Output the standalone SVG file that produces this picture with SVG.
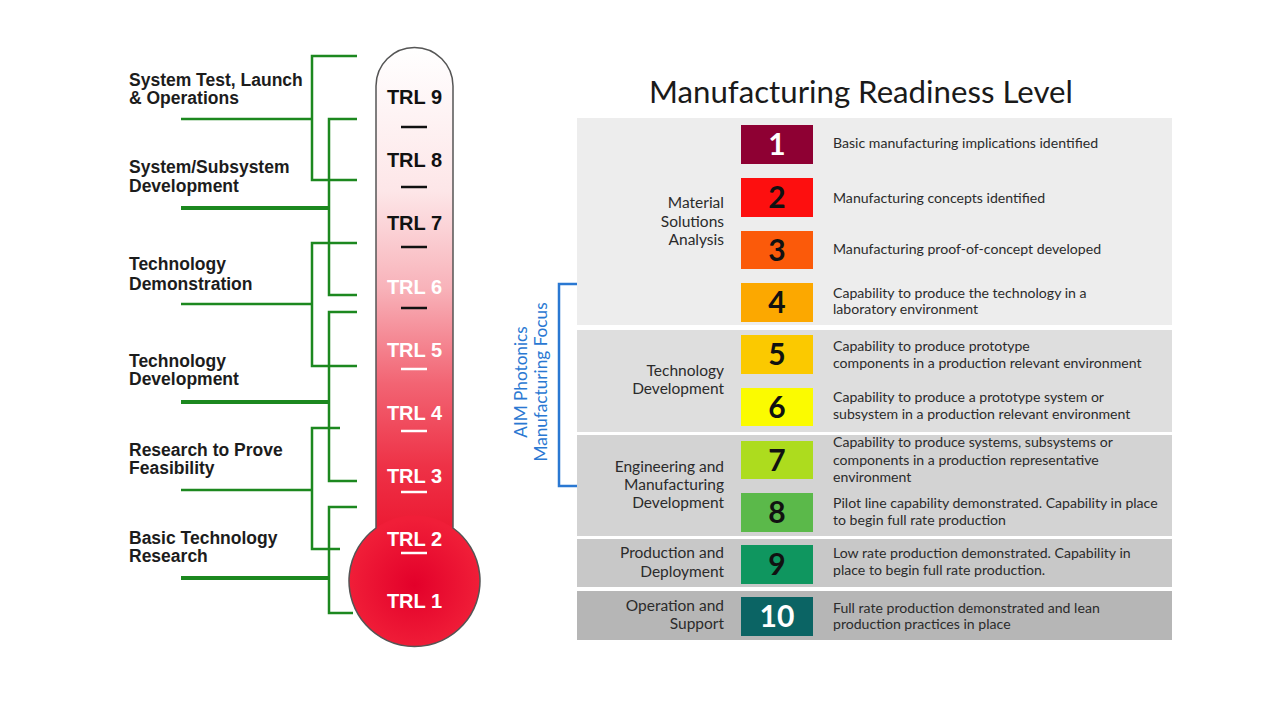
<svg xmlns="http://www.w3.org/2000/svg" width="1280" height="712" viewBox="0 0 1280 712">
<defs>
<linearGradient id="tubeGrad" x1="0" y1="47" x2="0" y2="528" gradientUnits="userSpaceOnUse">
<stop offset="0" stop-color="#ffffff"/>
<stop offset="0.3" stop-color="#fde6e8"/>
<stop offset="0.5" stop-color="#f8b3ba"/>
<stop offset="0.7" stop-color="#f26473"/>
<stop offset="0.87" stop-color="#ee3247"/>
<stop offset="1" stop-color="#ec1a33"/>
</linearGradient>
<radialGradient id="bulbGrad" cx="414.5" cy="585" r="65.5" gradientUnits="userSpaceOnUse">
<stop offset="0" stop-color="#e3002a"/>
<stop offset="1" stop-color="#f01e38"/>
</radialGradient>
<style>
.lbl{font-family:"Liberation Sans",Arial,sans-serif;font-weight:bold;font-size:17.5px;fill:#1c1c1c}
.trl{font-family:"Liberation Sans",Arial,sans-serif;font-weight:bold;font-size:20px;text-anchor:middle}
.dk{fill:#111111}
.wt{fill:#ffffff}
.g{stroke:#1c881f;stroke-width:2.5;fill:none}
.gt{stroke:#1c881f;stroke-width:4;fill:none}
.dashb{stroke:#111111;stroke-width:2.5}
.dashw{stroke:#ffffff;stroke-width:2.5}
.title{font-family:Lato,"Liberation Sans",sans-serif;font-size:31.2px;fill:#1a1a1a;text-anchor:middle}
.phase{font-family:Lato,"Liberation Sans",sans-serif;font-size:15.5px;fill:#2b2b2b;text-anchor:end}
.desc{font-family:Lato,"Liberation Sans",sans-serif;font-size:14.1px;fill:#2b2b2b}
.num{font-family:Lato,"Liberation Sans",sans-serif;font-size:30px;font-weight:bold;text-anchor:middle}
.blue{stroke:#2a78d2;stroke-width:2.5;fill:none}
.bluet{font-family:Lato,"Liberation Sans",sans-serif;font-size:17.2px;fill:#2a78d2;text-anchor:middle}
</style>
</defs>
<rect width="1280" height="712" fill="#ffffff"/>

<g id="thermometer">
<path d="M376,528 L376,86 A38.5,38.5 0 0 1 453,86 L453,528 A65.5,65.5 0 1 1 376,528 Z" fill="url(#tubeGrad)"/>
<circle cx="414.5" cy="581" r="65.5" fill="url(#bulbGrad)"/>
<path d="M376,528 L376,86 A38.5,38.5 0 0 1 453,86 L453,528 A65.5,65.5 0 1 1 376,528 Z" fill="none" stroke="#555555" stroke-width="1.5"/>
<line class="dashb" x1="401" y1="127" x2="427" y2="127"/>
<line class="dashb" x1="401" y1="187" x2="427" y2="187"/>
<line class="dashb" x1="401" y1="247" x2="427" y2="247"/>
<line class="dashb" x1="401" y1="308" x2="427" y2="308"/>
<line class="dashw" x1="401" y1="369" x2="427" y2="369"/>
<line class="dashw" x1="401" y1="431" x2="427" y2="431"/>
<line class="dashw" x1="401" y1="492" x2="427" y2="492"/>
<line class="dashw" x1="401" y1="553" x2="427" y2="553"/>
</g>
<g id="trl9"><text class="trl dk" x="414.5" y="104">TRL 9</text></g>
<g id="trl8"><text class="trl dk" x="414.5" y="167">TRL 8</text></g>
<g id="trl7"><text class="trl dk" x="414.5" y="230">TRL 7</text></g>
<g id="trl6"><text class="trl wt" x="414.5" y="294">TRL 6</text></g>
<g id="trl5"><text class="trl wt" x="414.5" y="357">TRL 5</text></g>
<g id="trl4"><text class="trl wt" x="414.5" y="420">TRL 4</text></g>
<g id="trl3"><text class="trl wt" x="414.5" y="483">TRL 3</text></g>
<g id="trl2"><text class="trl wt" x="414.5" y="546">TRL 2</text></g>
<g id="trl1"><text class="trl wt" x="414.5" y="608">TRL 1</text></g>

<g id="label-system-test"><text class="lbl" x="129" y="86">System Test, Launch</text><text class="lbl" x="129" y="104">&amp; Operations</text></g>
<g id="label-system-dev"><text class="lbl" x="129" y="173">System/Subsystem</text><text class="lbl" x="129" y="192">Development</text></g>
<g id="label-tech-demo"><text class="lbl" x="129" y="270">Technology</text><text class="lbl" x="129" y="290">Demonstration</text></g>
<g id="label-tech-dev"><text class="lbl" x="129" y="367">Technology</text><text class="lbl" x="129" y="385">Development</text></g>
<g id="label-research"><text class="lbl" x="129" y="456">Research to Prove</text><text class="lbl" x="129" y="474">Feasibility</text></g>
<g id="label-basic"><text class="lbl" x="129" y="544">Basic Technology</text><text class="lbl" x="129" y="562">Research</text></g>

<g id="connectors">
<path class="g" d="M357,56 H312 V180 H357"/>
<line class="g" x1="181" y1="119" x2="312" y2="119"/>
<path class="g" d="M357,119 H329 V295 H357"/>
<line class="gt" x1="181" y1="208" x2="329" y2="208"/>
<path class="g" d="M357,243 H312 V366 H357"/>
<line class="g" x1="181" y1="304" x2="312" y2="304"/>
<path class="g" d="M357,312 H329 V481 H357"/>
<line class="gt" x1="181" y1="402" x2="329" y2="402"/>
<path class="g" d="M340,428 H312 V549 H340"/>
<line class="g" x1="181" y1="490" x2="312" y2="490"/>
<path class="g" d="M357,507 H329 V613 H353"/>
<line class="gt" x1="181" y1="578" x2="329" y2="578"/>
<path class="blue" d="M616,284 H559 V486 H616"/>
</g>

<g id="title"><text class="title" x="861" y="103">Manufacturing Readiness Level</text></g>

<g id="band-msa">
<rect x="577" y="118" width="595" height="207" fill="#ededed"/>
<text class="phase" x="724" y="208">Material</text><text class="phase" x="724" y="227">Solutions</text><text class="phase" x="724" y="245">Analysis</text>
</g>
<g id="band-td">
<rect x="577" y="330" width="595" height="102" fill="#dedede"/>
<text class="phase" x="724" y="376">Technology</text><text class="phase" x="724" y="394">Development</text>
</g>
<g id="band-emd">
<rect x="577" y="435" width="595" height="101" fill="#d3d3d3"/>
<text class="phase" x="724" y="472">Engineering and</text><text class="phase" x="724" y="490">Manufacturing</text><text class="phase" x="724" y="508">Development</text>
</g>
<g id="band-pd">
<rect x="577" y="539" width="595" height="48" fill="#c8c8c8"/>
<text class="phase" x="724" y="558">Production and</text><text class="phase" x="724" y="577">Deployment</text>
</g>
<g id="band-os">
<rect x="577" y="591" width="595" height="49" fill="#b6b6b6"/>
<text class="phase" x="724" y="611">Operation and</text><text class="phase" x="724" y="629">Support</text>
</g>

<g id="mrl1"><rect x="741" y="125" width="72" height="39" fill="#8e0033"/><text class="num wt" x="777" y="155">1</text><text class="desc" x="833" y="148">Basic manufacturing implications identified</text></g>
<g id="mrl2"><rect x="741" y="178" width="72" height="39" fill="#fd0f0f"/><text class="num dk" x="777" y="208">2</text><text class="desc" x="833" y="203">Manufacturing concepts identified</text></g>
<g id="mrl3"><rect x="741" y="231" width="72" height="38" fill="#fb5a0a"/><text class="num dk" x="777" y="261">3</text><text class="desc" x="833" y="254">Manufacturing proof-of-concept developed</text></g>
<g id="mrl4"><rect x="741" y="283" width="72" height="39" fill="#fca800"/><text class="num dk" x="777" y="313">4</text><text class="desc" x="833" y="298">Capability to produce the technology in a</text><text class="desc" x="833" y="314">laboratory environment</text></g>
<g id="mrl5"><rect x="741" y="335" width="72" height="39" fill="#fbc900"/><text class="num dk" x="777" y="365">5</text><text class="desc" x="833" y="351">Capability to produce prototype</text><text class="desc" x="833" y="368">components in a production relevant environment</text></g>
<g id="mrl6"><rect x="741" y="388" width="72" height="38" fill="#fbfb00"/><text class="num dk" x="777" y="418">6</text><text class="desc" x="833" y="402">Capability to produce a prototype system or</text><text class="desc" x="833" y="419">subsystem in a production relevant environment</text></g>
<g id="mrl7"><rect x="741" y="441" width="72" height="38" fill="#addc1e"/><text class="num dk" x="777" y="471">7</text><text class="desc" x="833" y="447">Capability to produce systems, subsystems or</text><text class="desc" x="833" y="465">components in a production representative</text><text class="desc" x="833" y="482">environment</text></g>
<g id="mrl8"><rect x="741" y="493" width="72" height="39" fill="#5bb94a"/><text class="num dk" x="777" y="523">8</text><text class="desc" x="833" y="508">Pilot line capability demonstrated. Capability in place</text><text class="desc" x="833" y="525">to begin full rate production</text></g>
<g id="mrl9"><rect x="741" y="545" width="72" height="39" fill="#0f965f"/><text class="num dk" x="777" y="575">9</text><text class="desc" x="833" y="558">Low rate production demonstrated. Capability in</text><text class="desc" x="833" y="575">place to begin full rate production.</text></g>
<g id="mrl10"><rect x="741" y="597" width="72" height="39" fill="#0b6464"/><text class="num wt" x="777" y="627">10</text><text class="desc" x="833" y="613">Full rate production demonstrated and lean</text><text class="desc" x="833" y="629">production practices in place</text></g>

<g id="aim-focus">
<text class="bluet" transform="translate(527,382) rotate(-90)">AIM Photonics</text>
<text class="bluet" transform="translate(547,382) rotate(-90)">Manufacturing Focus</text>
</g>
</svg>
